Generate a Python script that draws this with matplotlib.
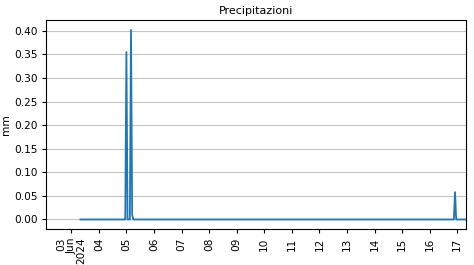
import matplotlib
matplotlib.use("Agg")
import matplotlib.pyplot as plt
from datetime import datetime

# Data (hourly rain, mm) - only the points where the series changes
times = [
    "2024-06-03 08:00", "2024-06-04 22:00", "2024-06-04 23:00", "2024-06-05 00:00",
    "2024-06-05 01:00", "2024-06-05 03:00", "2024-06-05 04:00", "2024-06-05 05:00",
    "2024-06-05 06:00", "2024-06-16 21:00", "2024-06-16 22:00", "2024-06-16 23:00",
    "2024-06-17 08:00",
]
rain_mm = [0.0, 0.0, 0.0, 0.355, 0.0, 0.0, 0.402, 0.01, 0.0, 0.0, 0.058, 0.0, 0.0]

tick_days = ["2024-06-%02d" % d for d in range(3, 18)]
tick_labels = ["03\nJun\n2024"] + ["%02d" % d for d in range(4, 18)]

x = [datetime.strptime(t, "%Y-%m-%d %H:%M") for t in times]
ticks = [datetime.strptime(t, "%Y-%m-%d") for t in tick_days]

plt.rcParams["font.size"] = 7.6
fig = plt.figure(figsize=(4.74, 2.65), dpi=100)
ax = fig.add_axes([0.097, 0.136, 0.886, 0.787])
ax.plot(x, rain_mm, color="#1f77b4", linewidth=1.3)
ax.set_title("Precipitazioni", fontsize=8, pad=4.5)
ax.set_ylabel("mm")
ax.yaxis.set_label_coords(-0.083, 0.5)
ax.set_yticks([i * 0.05 for i in range(9)])
ax.yaxis.set_major_formatter(plt.FormatStrFormatter("%.2f"))
ax.set_xticks(ticks)
ax.set_xticklabels(tick_labels, rotation=90, multialignment="right", linespacing=0.95)
ax.set_xlim(datetime(2024, 6, 2, 2, 0), datetime(2024, 6, 17, 7, 30))
ax.tick_params(length=3, pad=3)
ax.grid(axis="y", color="#c4c4c4", linewidth=0.8)
ax.set_axisbelow(True)

fig.savefig("out.png", dpi=100)
